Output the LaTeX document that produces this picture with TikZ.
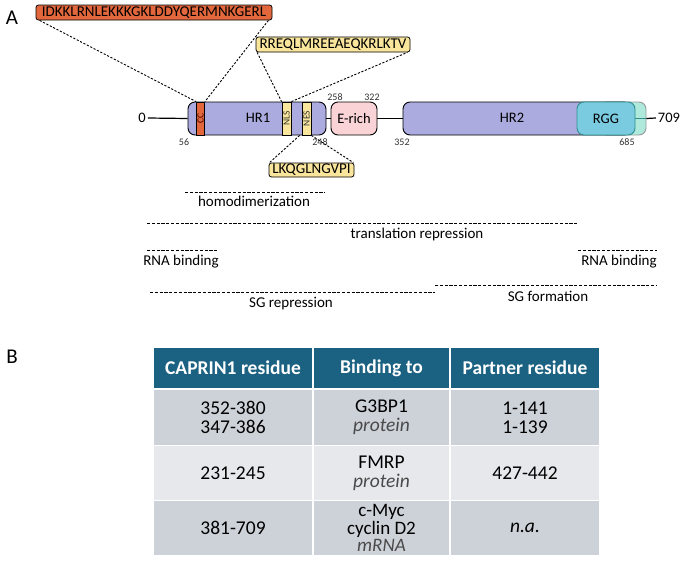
\documentclass[tikz,border=0pt]{standalone}
\usepackage{fontspec}
\setmainfont{Carlito}
\definecolor{ccor}{HTML}{E2673C}
\definecolor{hrp}{HTML}{ABABE0}
\definecolor{yel}{HTML}{F9E59C}
\definecolor{pnk}{HTML}{F9D3D5}
\definecolor{rggc}{HTML}{7BCBE0}
\definecolor{rggb}{HTML}{2F8F8F}
\definecolor{ltteal}{HTML}{AEE9DB}
\definecolor{hdr}{HTML}{1B6182}
\definecolor{rowa}{HTML}{CDD1D8}
\definecolor{rowb}{HTML}{E7E8EC}
\definecolor{itg}{HTML}{4A4A4A}
\tikzset{
  dom/.style={draw=black, line width=0.9pt, rounded corners=7pt, minimum height=33pt, inner sep=0pt},
  stripe/.style={draw=black, line width=0.8pt, minimum height=33pt, inner sep=0pt},
  seqbox/.style={draw=black, line width=0.8pt, rounded corners=2.5pt, inner sep=0pt, font=\fontsize{15}{15}\selectfont, minimum height=15pt},
  link/.style={dash pattern=on 2.2pt off 1.6pt, line width=0.9pt},
  func/.style={dash pattern=on 3.2pt off 1.6pt, line width=0.8pt},
  num/.style={font=\fontsize{10}{10}\selectfont, inner sep=0pt, text=black!80},
  flab/.style={font=\fontsize{15}{15}\selectfont, inner sep=0pt},
  dlab/.style={font=\fontsize{14.5}{14.5}\selectfont, inner sep=0pt},
  slab/.style={font=\fontsize{9.5}{9.5}\selectfont, inner sep=0pt, rotate=90},
  backbone/.style={line width=1.2pt},
  cell/.style={draw=white, line width=1.5pt, inner sep=0pt, align=center, font=\fontsize{19.5}{19}\selectfont},
  hcell/.style={cell, fill=hdr, text=white, font=\fontsize{19.5}{19}\selectfont\bfseries},
  panel/.style={font=\fontsize{21}{21}\selectfont, inner sep=0pt},
}
\newcommand{\itgray}[1]{{\color{itg}\itshape #1}}
\begin{document}
\begin{tikzpicture}[x=1pt,y=-1pt]
\useasboundingbox (0,0) rectangle (685,560);
\fill[white] (0,0) rectangle (685,560);

% panel labels
\node[panel] (pa) at (12,18) {A};
\node[panel] (pb) at (12,357) {B};

% backbone pieces
\node[dlab, inner xsep=2pt] (zero) at (142,118) {0};
\node[dlab, inner xsep=2pt] (end) at (669,118) {709};

% domains
\node[dom, fill=hrp, minimum width=138pt] (hr1) at (257,118.5) {};
\node[dom, fill=pnk, minimum width=46pt] (erich) at (354,118.5) {};
\node[dom, fill=ltteal, draw=black!40, minimum width=46pt] (tealbox) at (623,118.5) {};
\node[dom, fill=hrp, minimum width=228pt] (hr2) at (517,118.5) {};
\node[dom, fill=rggc, draw=rggb, minimum width=58pt] (rgg) at (606,118.5) {};

\draw[backbone] (zero.east) -- (hr1.west);
\draw[backbone] (hr1.east) -- (erich.west);
\draw[backbone] (erich.east) -- (hr2.west);
\draw[backbone, rggb] (rgg.east) -- (tealbox.east);
\draw[backbone] (tealbox.east) -- (end.west);

% stripes
\node[stripe, fill=ccor, minimum width=8pt] (cc) at (200.5,118.5) {};
\node[stripe, fill=yel, minimum width=9pt] (nls) at (286.5,118.5) {};
\node[stripe, fill=yel, minimum width=9pt] (nes) at (306.5,118.5) {};
\node[slab, text=black!75!red] at (cc) {CC};
\node[slab, text=black!80] at (nls) {NLS};
\node[slab, text=black!80] at (nes) {NES};

% domain labels
\node[dlab] at (258,118) {HR1};
\node[dlab] at (erich) {E-rich};
\node[dlab] at (512,118) {HR2};
\node[dlab] at (rgg) {RGG};

% residue numbers
\node[num] at (184,142) {56};
\node[num] at (320,142) {248};
\node[num] at (335,97) {258};
\node[num] at (372,97) {322};
\node[num] at (402,142) {352};
\node[num] at (627,142) {685};

% sequence boxes
\node[seqbox, fill=ccor, minimum width=236pt] (ob) at (154,12.5) {IDKKLRNLEKKKGKLDDYQERMNKGERL};
\node[seqbox, fill=yel, minimum width=154pt] (rr) at (333,44.5) {RREQLMREEAEQKRLKTV};
\node[seqbox, fill=yel, minimum width=85pt, minimum height=14pt] (lk) at (311.5,170) {LKQGLNGVPI};

\draw[link] ([xshift=4pt]ob.south west) -- (cc.north west);
\draw[link] ([xshift=-4pt]ob.south east) -- (cc.north east);
\draw[link] ([xshift=1.5pt]rr.south west) -- (nls.north west);
\draw[link] (nls.north east) -- ([xshift=-3pt]rr.south east);
\draw[link] ([xshift=-2pt]nes.south west) -- ([xshift=1pt]lk.north west);
\draw[link] (nes.south east) -- ([xshift=-1pt]lk.north east);

% functional regions
\coordinate (hd1) at (185,192); \coordinate (hd2) at (325,192);
\draw[func] (hd1) -- (hd2);
\node[flab] (hdl) at (254,201) {homodimerization};
\coordinate (tr1) at (147,223); \coordinate (tr2) at (577,223);
\draw[func] (tr1) -- (tr2);
\node[flab] (trl) at (417,234) {translation repression};
\coordinate (rb1) at (147,250); \coordinate (rb2) at (218,250);
\draw[func] (rb1) -- (rb2);
\node[flab] (rbl) at (181,262) {RNA binding};
\coordinate (rc1) at (578,250); \coordinate (rc2) at (657,250);
\draw[func] (rc1) -- (rc2);
\node[flab] (rcl) at (619,262) {RNA binding};
\coordinate (sr1) at (150,292); \coordinate (sr2) at (435,292);
\draw[func] (sr1) -- (sr2);
\node[flab] (srl) at (291,304) {SG repression};
\coordinate (sf1) at (435,285); \coordinate (sf2) at (657,285);
\draw[func] (sf1) -- (sf2);
\node[flab] (sfl) at (548,296) {SG formation};

% table
\node[hcell, minimum width=160pt, minimum height=41pt] (h1) at (233,368) {CAPRIN1 residue};
\node[hcell, minimum width=137pt, minimum height=41pt] (h2) at (381.5,368) {Binding to};
\node[hcell, minimum width=150pt, minimum height=41pt] (h3) at (525,368) {Partner residue};

\node[cell, fill=rowa, minimum width=160pt, minimum height=56pt] (a1) at (233,417.5) {352-380\\347-386};
\node[cell, fill=rowa, minimum width=137pt, minimum height=56pt] (a2) at (381.5,417.5) {G3BP1\\\itgray{protein}};
\node[cell, fill=rowa, minimum width=150pt, minimum height=56pt] (a3) at (525,417.5) {1-141\\1-139};

\node[cell, fill=rowb, minimum width=160pt, minimum height=55pt] (b1) at (233,473) {231-245};
\node[cell, fill=rowb, minimum width=137pt, minimum height=55pt] (b2) at (381.5,473) {FMRP\\\itgray{protein}};
\node[cell, fill=rowb, minimum width=150pt, minimum height=55pt] (b3) at (525,473) {427-442};

\node[cell, fill=rowa, minimum width=160pt, minimum height=55pt] (c1) at (233,528) {381-709};
\node[cell, fill=rowa, minimum width=137pt, minimum height=55pt, font=\fontsize{19}{17.5}\selectfont] (c2) at (381.5,528) {c-Myc\\cyclin D2\\\itgray{mRNA}};
\node[cell, fill=rowa, minimum width=150pt, minimum height=55pt] (c3) at (525,528) {\itshape n.a.};
\end{tikzpicture}
\end{document}
